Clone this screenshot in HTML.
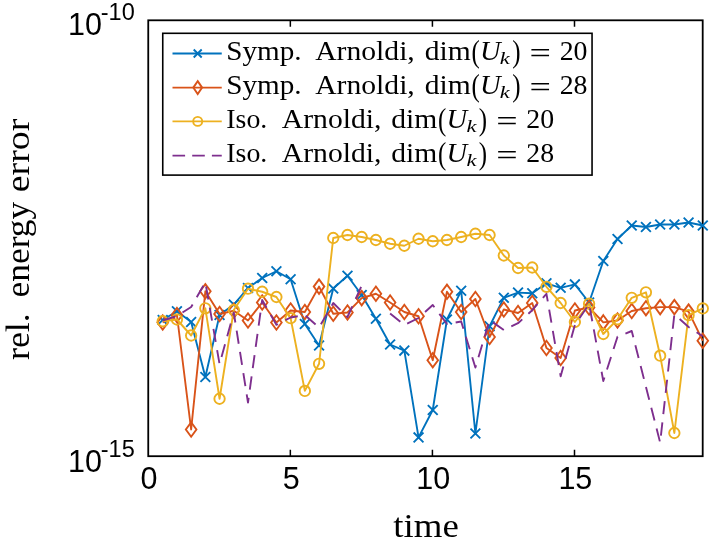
<!DOCTYPE html>
<html><head><meta charset="utf-8"><title>rel. energy error</title>
<style>html,body{margin:0;padding:0;background:#fff}svg{display:block}
.t{font-family:"Liberation Sans",sans-serif;fill:#000}
.s{font-family:"Liberation Serif",serif;fill:#000}
.i{font-family:"Liberation Serif",serif;font-style:italic;fill:#000}
</style></head><body>
<svg width="711" height="545" viewBox="0 0 711 545">
<rect width="711" height="545" fill="#fff"/>
<defs><clipPath id="c"><rect x="140.25" y="20.3" width="570.45" height="435.9"/></clipPath></defs>
<rect x="148.25" y="20.3" width="554.45" height="435.9" fill="none" stroke="#000" stroke-width="1.8"/>
<path d="M290.34 456.2v-6.5M290.34 20.3v6.5 M432.42 456.2v-6.5M432.42 20.3v6.5 M574.50 456.2v-6.5M574.50 20.3v6.5" stroke="#000" stroke-width="1.5" fill="none"/>
<g clip-path="url(#c)" stroke-linejoin="round">
<polyline points="162.71,320.00 176.93,311.25 191.14,322.00 205.35,377.00 219.56,315.00 233.78,304.50 247.99,288.00 262.20,278.00 276.41,271.25 290.62,279.25 304.84,324.00 319.05,345.50 333.26,288.50 347.48,275.80 361.69,295.00 375.90,318.75 390.11,344.50 404.33,350.60 418.54,437.40 432.75,410.00 446.96,319.50 461.18,290.80 475.39,433.50 489.60,326.25 503.81,297.80 518.03,292.60 532.24,293.30 546.45,283.30 560.66,287.80 574.88,284.40 589.09,302.50 603.30,261.00 617.51,239.00 631.73,225.50 645.94,227.00 660.15,224.50 674.36,224.50 688.58,222.50 702.79,225.50" fill="none" stroke="#0072BD" stroke-width="1.9"/>
<path d="M157.81 315.10L167.61 324.90M157.81 324.90L167.61 315.10" stroke="#0072BD" stroke-width="1.9" fill="none"/><path d="M172.03 306.35L181.83 316.15M172.03 316.15L181.83 306.35" stroke="#0072BD" stroke-width="1.9" fill="none"/><path d="M186.24 317.10L196.04 326.90M186.24 326.90L196.04 317.10" stroke="#0072BD" stroke-width="1.9" fill="none"/><path d="M200.45 372.10L210.25 381.90M200.45 381.90L210.25 372.10" stroke="#0072BD" stroke-width="1.9" fill="none"/><path d="M214.66 310.10L224.46 319.90M214.66 319.90L224.46 310.10" stroke="#0072BD" stroke-width="1.9" fill="none"/><path d="M228.88 299.60L238.68 309.40M228.88 309.40L238.68 299.60" stroke="#0072BD" stroke-width="1.9" fill="none"/><path d="M243.09 283.10L252.89 292.90M243.09 292.90L252.89 283.10" stroke="#0072BD" stroke-width="1.9" fill="none"/><path d="M257.30 273.10L267.10 282.90M257.30 282.90L267.10 273.10" stroke="#0072BD" stroke-width="1.9" fill="none"/><path d="M271.51 266.35L281.31 276.15M271.51 276.15L281.31 266.35" stroke="#0072BD" stroke-width="1.9" fill="none"/><path d="M285.73 274.35L295.52 284.15M285.73 284.15L295.52 274.35" stroke="#0072BD" stroke-width="1.9" fill="none"/><path d="M299.94 319.10L309.74 328.90M299.94 328.90L309.74 319.10" stroke="#0072BD" stroke-width="1.9" fill="none"/><path d="M314.15 340.60L323.95 350.40M314.15 350.40L323.95 340.60" stroke="#0072BD" stroke-width="1.9" fill="none"/><path d="M328.36 283.60L338.16 293.40M328.36 293.40L338.16 283.60" stroke="#0072BD" stroke-width="1.9" fill="none"/><path d="M342.58 270.90L352.38 280.70M342.58 280.70L352.38 270.90" stroke="#0072BD" stroke-width="1.9" fill="none"/><path d="M356.79 290.10L366.59 299.90M356.79 299.90L366.59 290.10" stroke="#0072BD" stroke-width="1.9" fill="none"/><path d="M371.00 313.85L380.80 323.65M371.00 323.65L380.80 313.85" stroke="#0072BD" stroke-width="1.9" fill="none"/><path d="M385.21 339.60L395.01 349.40M385.21 349.40L395.01 339.60" stroke="#0072BD" stroke-width="1.9" fill="none"/><path d="M399.43 345.70L409.23 355.50M399.43 355.50L409.23 345.70" stroke="#0072BD" stroke-width="1.9" fill="none"/><path d="M413.64 432.50L423.44 442.30M413.64 442.30L423.44 432.50" stroke="#0072BD" stroke-width="1.9" fill="none"/><path d="M427.85 405.10L437.65 414.90M427.85 414.90L437.65 405.10" stroke="#0072BD" stroke-width="1.9" fill="none"/><path d="M442.06 314.60L451.86 324.40M442.06 324.40L451.86 314.60" stroke="#0072BD" stroke-width="1.9" fill="none"/><path d="M456.28 285.90L466.07 295.70M456.28 295.70L466.07 285.90" stroke="#0072BD" stroke-width="1.9" fill="none"/><path d="M470.49 428.60L480.29 438.40M470.49 438.40L480.29 428.60" stroke="#0072BD" stroke-width="1.9" fill="none"/><path d="M484.70 321.35L494.50 331.15M484.70 331.15L494.50 321.35" stroke="#0072BD" stroke-width="1.9" fill="none"/><path d="M498.91 292.90L508.71 302.70M498.91 302.70L508.71 292.90" stroke="#0072BD" stroke-width="1.9" fill="none"/><path d="M513.13 287.70L522.93 297.50M513.13 297.50L522.93 287.70" stroke="#0072BD" stroke-width="1.9" fill="none"/><path d="M527.34 288.40L537.14 298.20M527.34 298.20L537.14 288.40" stroke="#0072BD" stroke-width="1.9" fill="none"/><path d="M541.55 278.40L551.35 288.20M541.55 288.20L551.35 278.40" stroke="#0072BD" stroke-width="1.9" fill="none"/><path d="M555.76 282.90L565.56 292.70M555.76 292.70L565.56 282.90" stroke="#0072BD" stroke-width="1.9" fill="none"/><path d="M569.98 279.50L579.77 289.30M569.98 289.30L579.77 279.50" stroke="#0072BD" stroke-width="1.9" fill="none"/><path d="M584.19 297.60L593.99 307.40M584.19 307.40L593.99 297.60" stroke="#0072BD" stroke-width="1.9" fill="none"/><path d="M598.40 256.10L608.20 265.90M598.40 265.90L608.20 256.10" stroke="#0072BD" stroke-width="1.9" fill="none"/><path d="M612.61 234.10L622.41 243.90M612.61 243.90L622.41 234.10" stroke="#0072BD" stroke-width="1.9" fill="none"/><path d="M626.83 220.60L636.62 230.40M626.83 230.40L636.62 220.60" stroke="#0072BD" stroke-width="1.9" fill="none"/><path d="M641.04 222.10L650.84 231.90M641.04 231.90L650.84 222.10" stroke="#0072BD" stroke-width="1.9" fill="none"/><path d="M655.25 219.60L665.05 229.40M655.25 229.40L665.05 219.60" stroke="#0072BD" stroke-width="1.9" fill="none"/><path d="M669.46 219.60L679.26 229.40M669.46 229.40L679.26 219.60" stroke="#0072BD" stroke-width="1.9" fill="none"/><path d="M683.68 217.60L693.48 227.40M683.68 227.40L693.48 217.60" stroke="#0072BD" stroke-width="1.9" fill="none"/><path d="M697.89 220.60L707.69 230.40M697.89 230.40L707.69 220.60" stroke="#0072BD" stroke-width="1.9" fill="none"/>
<polyline points="162.71,322.50 176.93,315.00 191.14,429.50 205.35,291.30 219.56,314.00 233.78,310.75 247.99,320.50 262.20,302.50 276.41,322.50 290.62,310.50 304.84,312.00 319.05,286.60 333.26,313.75 347.48,312.50 361.69,298.10 375.90,293.75 390.11,302.50 404.33,312.00 418.54,316.25 432.75,360.20 446.96,291.80 461.18,312.00 475.39,299.00 489.60,337.00 503.81,309.50 518.03,313.00 532.24,303.00 546.45,348.00 560.66,358.00 574.88,310.50 589.09,307.50 603.30,322.40 617.51,320.50 631.73,311.00 645.94,308.20 660.15,307.10 674.36,307.10 688.58,311.60 702.79,340.80" fill="none" stroke="#D95319" stroke-width="1.9"/>
<path d="M162.71 315.30L168.01 322.50L162.71 329.70L157.41 322.50Z" stroke="#D95319" stroke-width="1.9" fill="none" stroke-linejoin="miter"/><path d="M176.93 307.80L182.23 315.00L176.93 322.20L171.62 315.00Z" stroke="#D95319" stroke-width="1.9" fill="none" stroke-linejoin="miter"/><path d="M191.14 422.30L196.44 429.50L191.14 436.70L185.84 429.50Z" stroke="#D95319" stroke-width="1.9" fill="none" stroke-linejoin="miter"/><path d="M205.35 284.10L210.65 291.30L205.35 298.50L200.05 291.30Z" stroke="#D95319" stroke-width="1.9" fill="none" stroke-linejoin="miter"/><path d="M219.56 306.80L224.86 314.00L219.56 321.20L214.26 314.00Z" stroke="#D95319" stroke-width="1.9" fill="none" stroke-linejoin="miter"/><path d="M233.78 303.55L239.08 310.75L233.78 317.95L228.47 310.75Z" stroke="#D95319" stroke-width="1.9" fill="none" stroke-linejoin="miter"/><path d="M247.99 313.30L253.29 320.50L247.99 327.70L242.69 320.50Z" stroke="#D95319" stroke-width="1.9" fill="none" stroke-linejoin="miter"/><path d="M262.20 295.30L267.50 302.50L262.20 309.70L256.90 302.50Z" stroke="#D95319" stroke-width="1.9" fill="none" stroke-linejoin="miter"/><path d="M276.41 315.30L281.71 322.50L276.41 329.70L271.11 322.50Z" stroke="#D95319" stroke-width="1.9" fill="none" stroke-linejoin="miter"/><path d="M290.62 303.30L295.93 310.50L290.62 317.70L285.32 310.50Z" stroke="#D95319" stroke-width="1.9" fill="none" stroke-linejoin="miter"/><path d="M304.84 304.80L310.14 312.00L304.84 319.20L299.54 312.00Z" stroke="#D95319" stroke-width="1.9" fill="none" stroke-linejoin="miter"/><path d="M319.05 279.40L324.35 286.60L319.05 293.80L313.75 286.60Z" stroke="#D95319" stroke-width="1.9" fill="none" stroke-linejoin="miter"/><path d="M333.26 306.55L338.56 313.75L333.26 320.95L327.96 313.75Z" stroke="#D95319" stroke-width="1.9" fill="none" stroke-linejoin="miter"/><path d="M347.48 305.30L352.78 312.50L347.48 319.70L342.18 312.50Z" stroke="#D95319" stroke-width="1.9" fill="none" stroke-linejoin="miter"/><path d="M361.69 290.90L366.99 298.10L361.69 305.30L356.39 298.10Z" stroke="#D95319" stroke-width="1.9" fill="none" stroke-linejoin="miter"/><path d="M375.90 286.55L381.20 293.75L375.90 300.95L370.60 293.75Z" stroke="#D95319" stroke-width="1.9" fill="none" stroke-linejoin="miter"/><path d="M390.11 295.30L395.41 302.50L390.11 309.70L384.81 302.50Z" stroke="#D95319" stroke-width="1.9" fill="none" stroke-linejoin="miter"/><path d="M404.33 304.80L409.63 312.00L404.33 319.20L399.03 312.00Z" stroke="#D95319" stroke-width="1.9" fill="none" stroke-linejoin="miter"/><path d="M418.54 309.05L423.84 316.25L418.54 323.45L413.24 316.25Z" stroke="#D95319" stroke-width="1.9" fill="none" stroke-linejoin="miter"/><path d="M432.75 353.00L438.05 360.20L432.75 367.40L427.45 360.20Z" stroke="#D95319" stroke-width="1.9" fill="none" stroke-linejoin="miter"/><path d="M446.96 284.60L452.26 291.80L446.96 299.00L441.66 291.80Z" stroke="#D95319" stroke-width="1.9" fill="none" stroke-linejoin="miter"/><path d="M461.18 304.80L466.48 312.00L461.18 319.20L455.88 312.00Z" stroke="#D95319" stroke-width="1.9" fill="none" stroke-linejoin="miter"/><path d="M475.39 291.80L480.69 299.00L475.39 306.20L470.09 299.00Z" stroke="#D95319" stroke-width="1.9" fill="none" stroke-linejoin="miter"/><path d="M489.60 329.80L494.90 337.00L489.60 344.20L484.30 337.00Z" stroke="#D95319" stroke-width="1.9" fill="none" stroke-linejoin="miter"/><path d="M503.81 302.30L509.11 309.50L503.81 316.70L498.51 309.50Z" stroke="#D95319" stroke-width="1.9" fill="none" stroke-linejoin="miter"/><path d="M518.03 305.80L523.33 313.00L518.03 320.20L512.73 313.00Z" stroke="#D95319" stroke-width="1.9" fill="none" stroke-linejoin="miter"/><path d="M532.24 295.80L537.54 303.00L532.24 310.20L526.94 303.00Z" stroke="#D95319" stroke-width="1.9" fill="none" stroke-linejoin="miter"/><path d="M546.45 340.80L551.75 348.00L546.45 355.20L541.15 348.00Z" stroke="#D95319" stroke-width="1.9" fill="none" stroke-linejoin="miter"/><path d="M560.66 350.80L565.96 358.00L560.66 365.20L555.36 358.00Z" stroke="#D95319" stroke-width="1.9" fill="none" stroke-linejoin="miter"/><path d="M574.88 303.30L580.17 310.50L574.88 317.70L569.58 310.50Z" stroke="#D95319" stroke-width="1.9" fill="none" stroke-linejoin="miter"/><path d="M589.09 300.30L594.39 307.50L589.09 314.70L583.79 307.50Z" stroke="#D95319" stroke-width="1.9" fill="none" stroke-linejoin="miter"/><path d="M603.30 315.20L608.60 322.40L603.30 329.60L598.00 322.40Z" stroke="#D95319" stroke-width="1.9" fill="none" stroke-linejoin="miter"/><path d="M617.51 313.30L622.81 320.50L617.51 327.70L612.21 320.50Z" stroke="#D95319" stroke-width="1.9" fill="none" stroke-linejoin="miter"/><path d="M631.73 303.80L637.02 311.00L631.73 318.20L626.43 311.00Z" stroke="#D95319" stroke-width="1.9" fill="none" stroke-linejoin="miter"/><path d="M645.94 301.00L651.24 308.20L645.94 315.40L640.64 308.20Z" stroke="#D95319" stroke-width="1.9" fill="none" stroke-linejoin="miter"/><path d="M660.15 299.90L665.45 307.10L660.15 314.30L654.85 307.10Z" stroke="#D95319" stroke-width="1.9" fill="none" stroke-linejoin="miter"/><path d="M674.36 299.90L679.66 307.10L674.36 314.30L669.06 307.10Z" stroke="#D95319" stroke-width="1.9" fill="none" stroke-linejoin="miter"/><path d="M688.58 304.40L693.88 311.60L688.58 318.80L683.28 311.60Z" stroke="#D95319" stroke-width="1.9" fill="none" stroke-linejoin="miter"/><path d="M702.79 333.60L708.09 340.80L702.79 348.00L697.49 340.80Z" stroke="#D95319" stroke-width="1.9" fill="none" stroke-linejoin="miter"/>
<polyline points="162.71,321.25 176.93,319.50 191.14,335.50 205.35,308.30 219.56,398.75 233.78,310.00 247.99,288.70 262.20,291.75 276.41,297.00 290.62,318.20 304.84,390.90 319.05,363.80 333.26,238.00 347.48,235.00 361.69,237.00 375.90,240.00 390.11,243.75 404.33,245.75 418.54,238.75 432.75,241.25 446.96,240.00 461.18,237.00 475.39,233.75 489.60,235.00 503.81,255.50 518.03,268.00 532.24,267.50 546.45,286.80 560.66,303.00 574.88,322.00 589.09,303.75 603.30,334.00 617.51,319.30 631.73,297.80 645.94,292.30 660.15,355.70 674.36,433.00 688.58,315.20 702.79,308.40" fill="none" stroke="#EDB120" stroke-width="1.9"/>
<circle cx="162.71" cy="321.25" r="5.2" stroke="#EDB120" stroke-width="1.9" fill="none"/><circle cx="176.93" cy="319.50" r="5.2" stroke="#EDB120" stroke-width="1.9" fill="none"/><circle cx="191.14" cy="335.50" r="5.2" stroke="#EDB120" stroke-width="1.9" fill="none"/><circle cx="205.35" cy="308.30" r="5.2" stroke="#EDB120" stroke-width="1.9" fill="none"/><circle cx="219.56" cy="398.75" r="5.2" stroke="#EDB120" stroke-width="1.9" fill="none"/><circle cx="233.78" cy="310.00" r="5.2" stroke="#EDB120" stroke-width="1.9" fill="none"/><circle cx="247.99" cy="288.70" r="5.2" stroke="#EDB120" stroke-width="1.9" fill="none"/><circle cx="262.20" cy="291.75" r="5.2" stroke="#EDB120" stroke-width="1.9" fill="none"/><circle cx="276.41" cy="297.00" r="5.2" stroke="#EDB120" stroke-width="1.9" fill="none"/><circle cx="290.62" cy="318.20" r="5.2" stroke="#EDB120" stroke-width="1.9" fill="none"/><circle cx="304.84" cy="390.90" r="5.2" stroke="#EDB120" stroke-width="1.9" fill="none"/><circle cx="319.05" cy="363.80" r="5.2" stroke="#EDB120" stroke-width="1.9" fill="none"/><circle cx="333.26" cy="238.00" r="5.2" stroke="#EDB120" stroke-width="1.9" fill="none"/><circle cx="347.48" cy="235.00" r="5.2" stroke="#EDB120" stroke-width="1.9" fill="none"/><circle cx="361.69" cy="237.00" r="5.2" stroke="#EDB120" stroke-width="1.9" fill="none"/><circle cx="375.90" cy="240.00" r="5.2" stroke="#EDB120" stroke-width="1.9" fill="none"/><circle cx="390.11" cy="243.75" r="5.2" stroke="#EDB120" stroke-width="1.9" fill="none"/><circle cx="404.33" cy="245.75" r="5.2" stroke="#EDB120" stroke-width="1.9" fill="none"/><circle cx="418.54" cy="238.75" r="5.2" stroke="#EDB120" stroke-width="1.9" fill="none"/><circle cx="432.75" cy="241.25" r="5.2" stroke="#EDB120" stroke-width="1.9" fill="none"/><circle cx="446.96" cy="240.00" r="5.2" stroke="#EDB120" stroke-width="1.9" fill="none"/><circle cx="461.18" cy="237.00" r="5.2" stroke="#EDB120" stroke-width="1.9" fill="none"/><circle cx="475.39" cy="233.75" r="5.2" stroke="#EDB120" stroke-width="1.9" fill="none"/><circle cx="489.60" cy="235.00" r="5.2" stroke="#EDB120" stroke-width="1.9" fill="none"/><circle cx="503.81" cy="255.50" r="5.2" stroke="#EDB120" stroke-width="1.9" fill="none"/><circle cx="518.03" cy="268.00" r="5.2" stroke="#EDB120" stroke-width="1.9" fill="none"/><circle cx="532.24" cy="267.50" r="5.2" stroke="#EDB120" stroke-width="1.9" fill="none"/><circle cx="546.45" cy="286.80" r="5.2" stroke="#EDB120" stroke-width="1.9" fill="none"/><circle cx="560.66" cy="303.00" r="5.2" stroke="#EDB120" stroke-width="1.9" fill="none"/><circle cx="574.88" cy="322.00" r="5.2" stroke="#EDB120" stroke-width="1.9" fill="none"/><circle cx="589.09" cy="303.75" r="5.2" stroke="#EDB120" stroke-width="1.9" fill="none"/><circle cx="603.30" cy="334.00" r="5.2" stroke="#EDB120" stroke-width="1.9" fill="none"/><circle cx="617.51" cy="319.30" r="5.2" stroke="#EDB120" stroke-width="1.9" fill="none"/><circle cx="631.73" cy="297.80" r="5.2" stroke="#EDB120" stroke-width="1.9" fill="none"/><circle cx="645.94" cy="292.30" r="5.2" stroke="#EDB120" stroke-width="1.9" fill="none"/><circle cx="660.15" cy="355.70" r="5.2" stroke="#EDB120" stroke-width="1.9" fill="none"/><circle cx="674.36" cy="433.00" r="5.2" stroke="#EDB120" stroke-width="1.9" fill="none"/><circle cx="688.58" cy="315.20" r="5.2" stroke="#EDB120" stroke-width="1.9" fill="none"/><circle cx="702.79" cy="308.40" r="5.2" stroke="#EDB120" stroke-width="1.9" fill="none"/>
<polyline points="162.71,320.50 176.93,316.00 191.14,307.00 205.35,282.30 219.56,364.00 233.78,312.50 247.99,402.60 262.20,300.00 276.41,324.80 290.62,317.50 304.84,315.00 319.05,327.50 333.26,303.00 347.48,317.00 361.69,285.50" fill="none" stroke="#7E2F8E" stroke-width="1.9" stroke-dasharray="13.2 8.3"/>
<polyline points="390.11,313.40 404.33,325.00 418.54,318.00 432.75,305.00 446.96,324.00 461.18,321.50 475.39,367.50 489.60,320.00 503.81,330.00 518.03,323.20 532.24,310.20 546.45,293.80 560.66,376.25 574.88,325.00 589.09,304.00 603.30,381.00 617.51,336.70 631.73,331.00 645.94,386.80 660.15,442.60 674.36,314.40 688.58,327.00 702.79,336.30" fill="none" stroke="#7E2F8E" stroke-width="1.9" stroke-dasharray="13.2 8.3"/>
</g>
<text class="t" x="149.00" y="489.4" font-size="30.5" text-anchor="middle">0</text>
<text class="t" x="291.12" y="489.4" font-size="30.5" text-anchor="middle">5</text>
<text class="t" x="433.25" y="489.4" font-size="30.5" text-anchor="middle">10</text>
<text class="t" x="575.38" y="489.4" font-size="30.5" text-anchor="middle">15</text>
<text class="t" x="68" y="34.5" font-size="30.5">10<tspan font-size="23.5" dy="-14.6" dx="-1.2">-10</tspan></text>
<text class="t" x="68" y="471.7" font-size="30.5">10<tspan font-size="23.5" dy="-14.6" dx="-1.2">-15</tspan></text>
<text class="s" x="393.3" y="536.7" font-size="33" textLength="65.5" lengthAdjust="spacingAndGlyphs">time</text>
<g transform="translate(29 360) rotate(-90)"><text class="s" x="0" y="0" font-size="33" textLength="46.8" lengthAdjust="spacingAndGlyphs">rel.</text><text class="s" x="62.6" y="0" font-size="33" textLength="95.6" lengthAdjust="spacingAndGlyphs">energy</text><text class="s" x="167.8" y="0" font-size="33" textLength="73.6" lengthAdjust="spacingAndGlyphs">error</text></g>
<rect x="162.75" y="33.3" width="429.3" height="141.8" fill="#fff" stroke="#000" stroke-width="1.6"/>
<path d="M172.5 53.5H221.75" stroke="#0072BD" stroke-width="1.9"/><path d="M193.70 49.50L201.70 57.50M193.70 57.50L201.70 49.50" stroke="#0072BD" stroke-width="1.9" fill="none"/>
<path d="M172.5 87.6H221.75" stroke="#D95319" stroke-width="1.9"/><path d="M197.70 81.10L202.10 87.60L197.70 94.10L193.30 87.60Z" stroke="#D95319" stroke-width="1.9" fill="none" stroke-linejoin="miter"/>
<path d="M172.5 121.4H221.75" stroke="#EDB120" stroke-width="1.9"/><circle cx="197.70" cy="121.40" r="4.5" stroke="#EDB120" stroke-width="1.9" fill="none"/>
<path d="M172.5 155.6H221.75" stroke="#7E2F8E" stroke-width="1.9" stroke-dasharray="12.6 7.1"/>
<text class="s" x="226.30" y="60.10" font-size="27" textLength="75.30" lengthAdjust="spacingAndGlyphs">Symp.</text><text class="s" x="315.20" y="60.10" font-size="27" textLength="99.60" lengthAdjust="spacingAndGlyphs">Arnoldi,</text><text class="s" x="424.75" y="60.10" font-size="27" textLength="46.00" lengthAdjust="spacingAndGlyphs">dim</text><text class="s" x="471.40" y="61.70" font-size="31.5" textLength="8.30" lengthAdjust="spacingAndGlyphs">(</text><text class="i" x="480.00" y="60.10" font-size="28" textLength="20.60" lengthAdjust="spacingAndGlyphs">U</text><text class="i" x="499.80" y="64.30" font-size="16.5" textLength="10.00" lengthAdjust="spacingAndGlyphs">k</text><text class="s" x="512.20" y="61.70" font-size="31.5" textLength="8.30" lengthAdjust="spacingAndGlyphs">)</text><text class="s" x="529.60" y="63.10" font-size="30.4" textLength="21.40" lengthAdjust="spacingAndGlyphs">=</text><text class="s" x="559.70" y="60.10" font-size="28" textLength="27.80" lengthAdjust="spacingAndGlyphs">20</text>
<text class="s" x="226.30" y="94.20" font-size="27" textLength="75.30" lengthAdjust="spacingAndGlyphs">Symp.</text><text class="s" x="315.20" y="94.20" font-size="27" textLength="99.60" lengthAdjust="spacingAndGlyphs">Arnoldi,</text><text class="s" x="424.75" y="94.20" font-size="27" textLength="46.00" lengthAdjust="spacingAndGlyphs">dim</text><text class="s" x="471.40" y="95.80" font-size="31.5" textLength="8.30" lengthAdjust="spacingAndGlyphs">(</text><text class="i" x="480.00" y="94.20" font-size="28" textLength="20.60" lengthAdjust="spacingAndGlyphs">U</text><text class="i" x="499.80" y="98.40" font-size="16.5" textLength="10.00" lengthAdjust="spacingAndGlyphs">k</text><text class="s" x="512.20" y="95.80" font-size="31.5" textLength="8.30" lengthAdjust="spacingAndGlyphs">)</text><text class="s" x="529.60" y="97.20" font-size="30.4" textLength="21.40" lengthAdjust="spacingAndGlyphs">=</text><text class="s" x="559.70" y="94.20" font-size="28" textLength="27.80" lengthAdjust="spacingAndGlyphs">28</text>
<text class="s" x="226.30" y="128.00" font-size="27" textLength="41.00" lengthAdjust="spacingAndGlyphs">Iso.</text><text class="s" x="281.80" y="128.00" font-size="27" textLength="99.60" lengthAdjust="spacingAndGlyphs">Arnoldi,</text><text class="s" x="391.35" y="128.00" font-size="27" textLength="46.00" lengthAdjust="spacingAndGlyphs">dim</text><text class="s" x="438.00" y="129.60" font-size="31.5" textLength="8.30" lengthAdjust="spacingAndGlyphs">(</text><text class="i" x="446.60" y="128.00" font-size="28" textLength="20.60" lengthAdjust="spacingAndGlyphs">U</text><text class="i" x="466.40" y="132.20" font-size="16.5" textLength="10.00" lengthAdjust="spacingAndGlyphs">k</text><text class="s" x="478.80" y="129.60" font-size="31.5" textLength="8.30" lengthAdjust="spacingAndGlyphs">)</text><text class="s" x="496.20" y="131.00" font-size="30.4" textLength="21.40" lengthAdjust="spacingAndGlyphs">=</text><text class="s" x="526.30" y="128.00" font-size="28" textLength="27.80" lengthAdjust="spacingAndGlyphs">20</text>
<text class="s" x="226.30" y="162.20" font-size="27" textLength="41.00" lengthAdjust="spacingAndGlyphs">Iso.</text><text class="s" x="281.80" y="162.20" font-size="27" textLength="99.60" lengthAdjust="spacingAndGlyphs">Arnoldi,</text><text class="s" x="391.35" y="162.20" font-size="27" textLength="46.00" lengthAdjust="spacingAndGlyphs">dim</text><text class="s" x="438.00" y="163.80" font-size="31.5" textLength="8.30" lengthAdjust="spacingAndGlyphs">(</text><text class="i" x="446.60" y="162.20" font-size="28" textLength="20.60" lengthAdjust="spacingAndGlyphs">U</text><text class="i" x="466.40" y="166.40" font-size="16.5" textLength="10.00" lengthAdjust="spacingAndGlyphs">k</text><text class="s" x="478.80" y="163.80" font-size="31.5" textLength="8.30" lengthAdjust="spacingAndGlyphs">)</text><text class="s" x="496.20" y="165.20" font-size="30.4" textLength="21.40" lengthAdjust="spacingAndGlyphs">=</text><text class="s" x="526.30" y="162.20" font-size="28" textLength="27.80" lengthAdjust="spacingAndGlyphs">28</text>
</svg>
</body></html>
